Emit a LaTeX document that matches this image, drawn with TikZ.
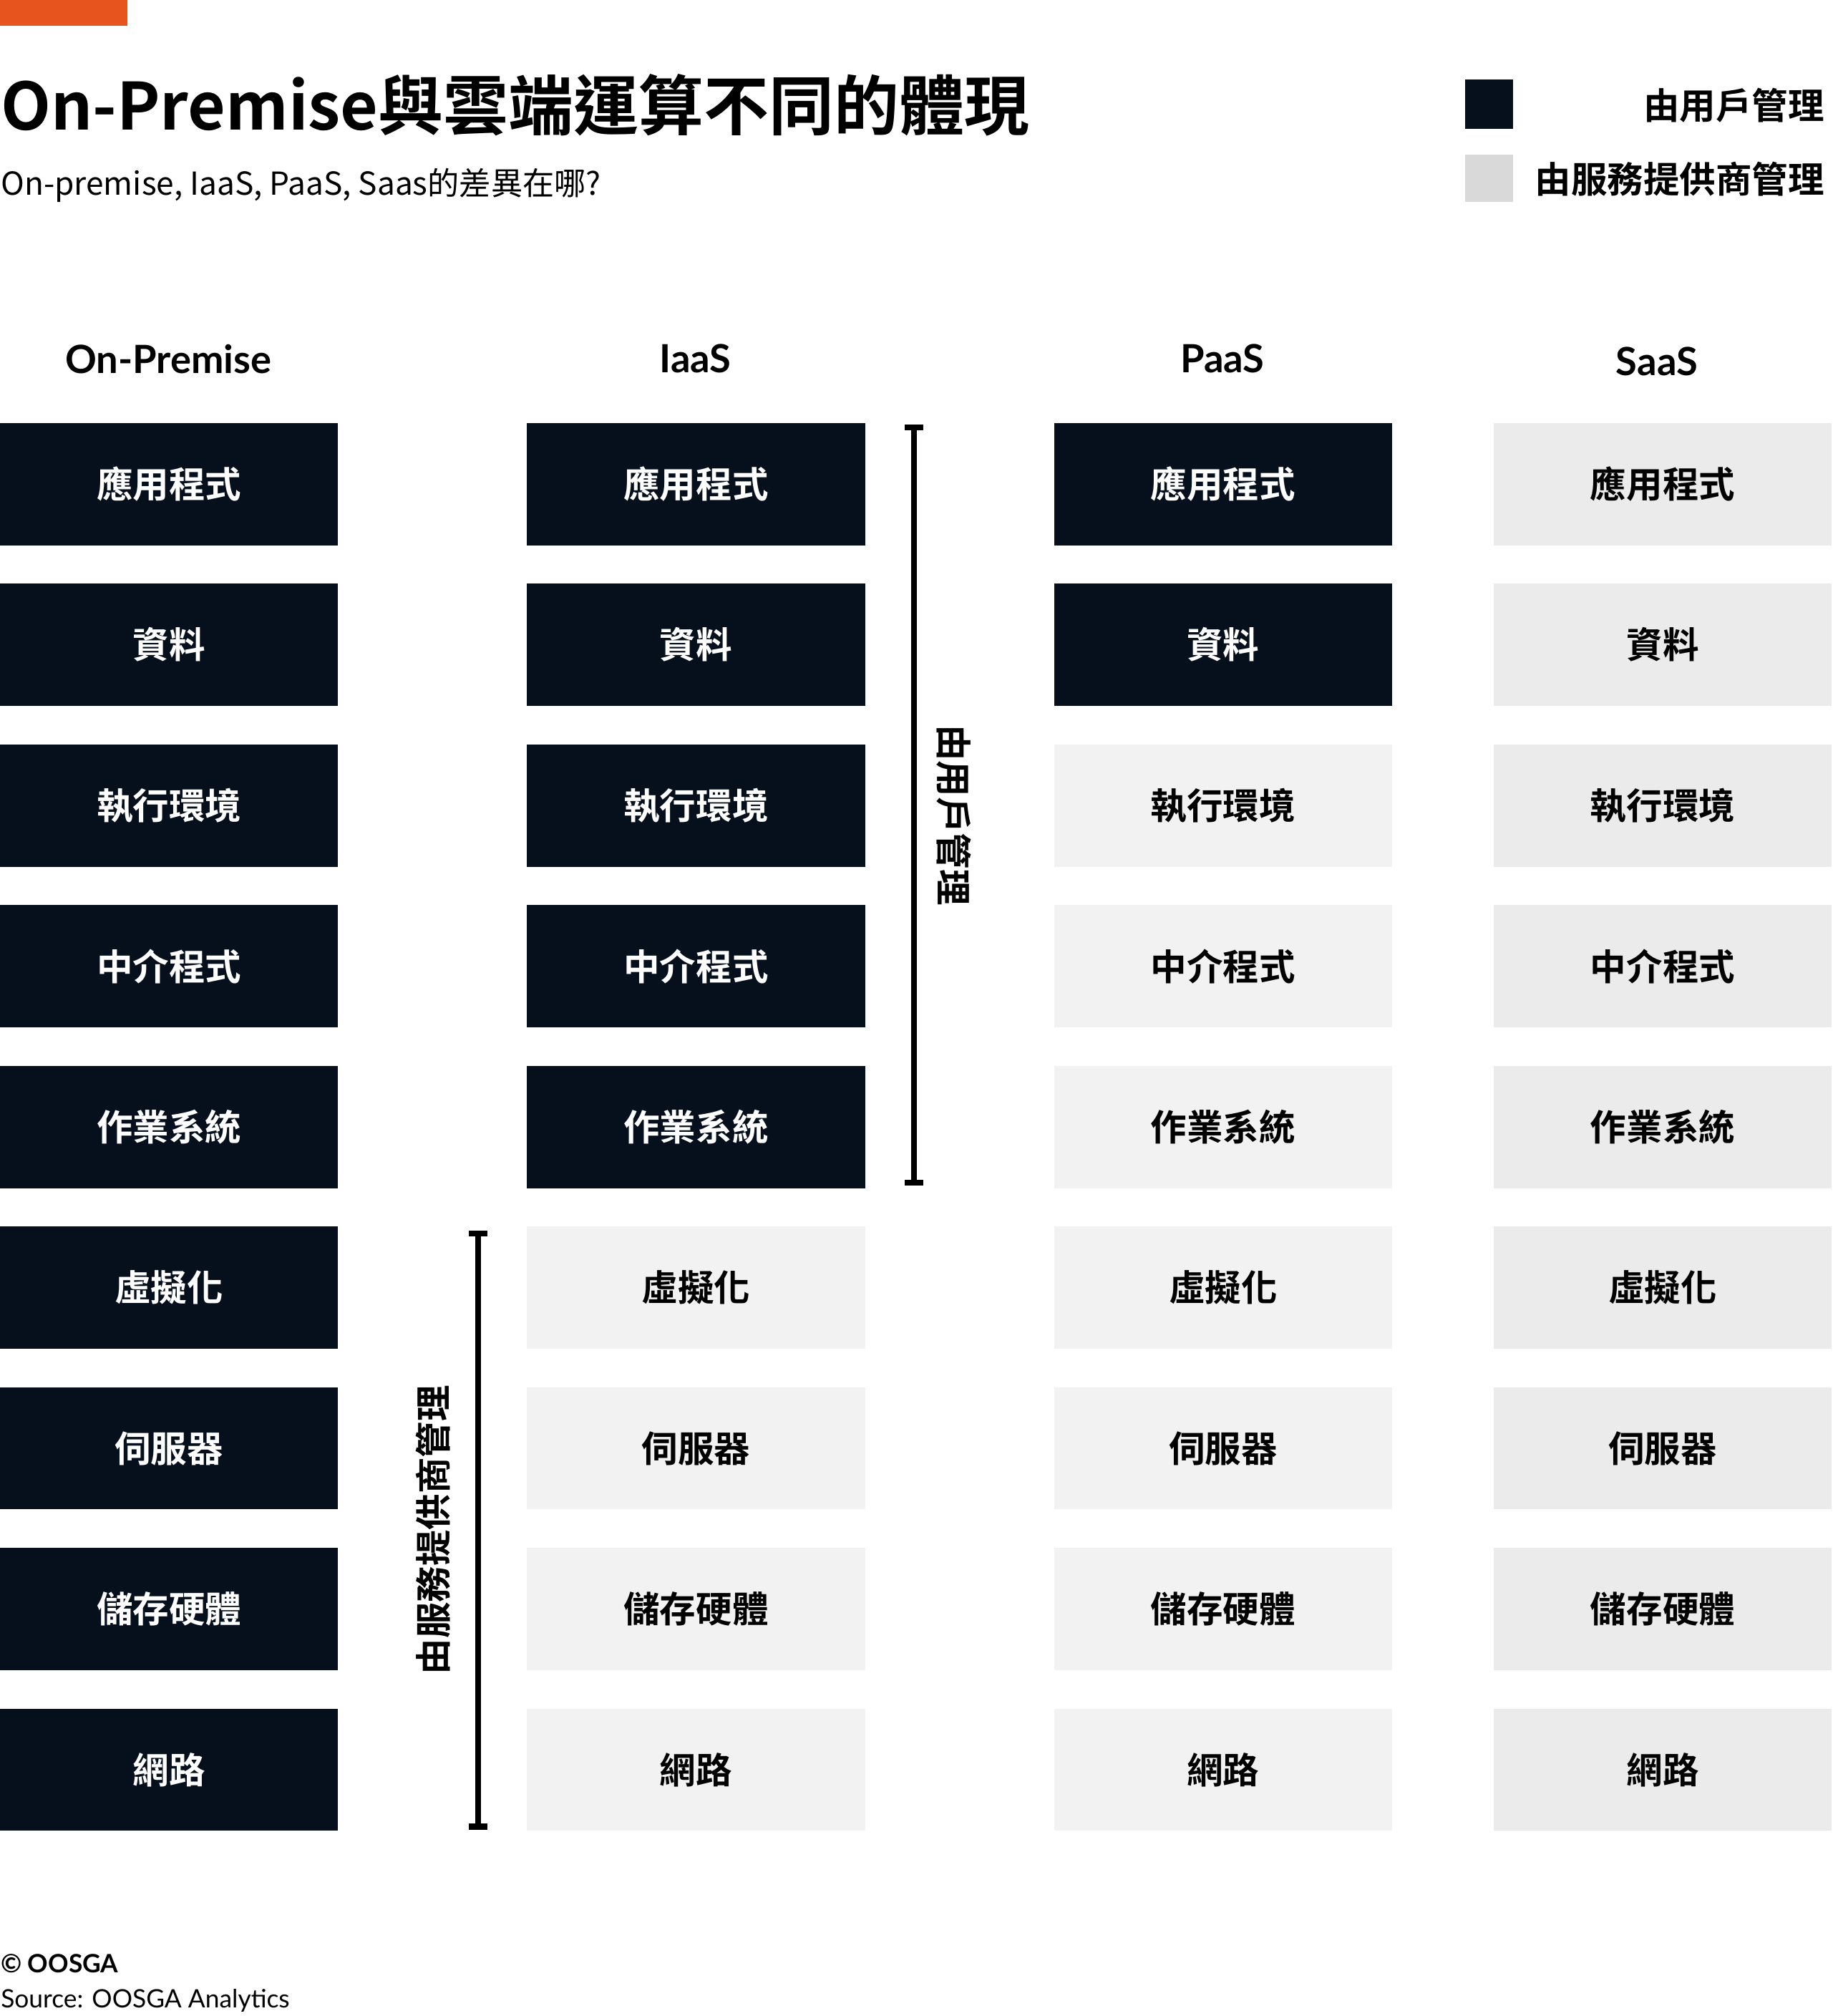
\documentclass[tikz,border=0pt]{standalone}
\usepackage{fontspec}
\setmainfont{Lato}
\newfontfamily\cjk{Noto Sans CJK TC}[BoldFont={Noto Sans CJK TC Bold}]
\usetikzlibrary{arrows.meta}
\definecolor{dark}{HTML}{06101C}
\definecolor{lite}{HTML}{F2F2F2}
\definecolor{saas}{HTML}{EBEBEB}
\definecolor{legendgrey}{HTML}{D9D9D9}
\definecolor{oosga}{HTML}{E8541E}
\begin{document}
\begin{tikzpicture}[x=0.01cm,y=-0.01cm]
\tikzset{cellbox/.style = {minimum width=2.63cm, minimum height=0.95cm, inner sep=0pt, font=\cjk\bfseries\fontsize{8}{10}\selectfont},
   userbox/.style = {cellbox, fill=dark, text=white},
   provbox/.style = {cellbox, fill=lite, text=black},
   saasbox/.style = {cellbox, fill=saas, text=black},
   colhead/.style = {font=\bfseries\fontsize{8.6}{11}\selectfont},
   bracket/.style = {line width=1.3pt, {Bar[width=4pt]}-{Bar[width=4pt]}}}
\useasboundingbox (0,0) rectangle (1426,1568);
\fill[oosga] (0,0) rectangle (99,20);
\node[anchor=west, inner sep=0pt, font=\cjk\bfseries\fontsize{14.4}{18}\selectfont] (title) at (0,82) {On-Premise與雲端運算不同的體現};
\node[anchor=west, inner sep=0pt, font=\cjk\fontsize{7}{8}\selectfont] (subtitle) at (0,144) {On-premise, IaaS, PaaS, Saas的差異在哪?};
% legend
\fill[dark] (1140,62) rectangle (1177,100);
\fill[legendgrey] (1140,120) rectangle (1177,157);
\node[anchor=east, inner sep=0pt, font=\cjk\bfseries\fontsize{8}{10}\selectfont] (leguser) at (1420,82) {由用戶管理};
\node[anchor=east, inner sep=0pt, font=\cjk\bfseries\fontsize{8}{10}\selectfont] (legprov) at (1420,139) {由服務提供商管理};
% column heads
\node[colhead] (hon) at (131,279) {On-Premise};
\node[colhead] (hi) at (541,279) {IaaS};
\node[colhead] (hp) at (951,279) {PaaS};
\node[colhead] (hs) at (1289,281) {SaaS};
% rows
\foreach \lab [count=\i] in {應用程式,資料,執行環境,中介程式,作業系統,虛擬化,伺服器,儲存硬體,網路}{
   \pgfmathsetmacro{\yy}{376.5+125*(\i-1)}
   \node[userbox] (on\i) at (131.5,\yy) {\lab};
   \ifnum\i<6 \node[userbox] (ia\i) at (541.5,\yy) {\lab};
   \else \node[provbox] (ia\i) at (541.5,\yy) {\lab}; \fi
   \ifnum\i<3 \node[userbox] (pa\i) at (951.5,\yy) {\lab};
   \else \node[provbox] (pa\i) at (951.5,\yy) {\lab}; \fi
   \node[saasbox] (sa\i) at (1293.5,\yy) {\lab};
}
% brackets
\coordinate (ut) at (711,330);
\coordinate (ub) at (711,922);
\draw[bracket] (ut) -- (ub);
\node[rotate=-90, font=\cjk\bfseries\fontsize{8}{10}\selectfont] (ulab) at (742,634) {由用戶管理};
\coordinate (pt) at (372,957);
\coordinate (pb) at (372,1423);
\draw[bracket] (pt) -- (pb);
\node[rotate=90, font=\cjk\bfseries\fontsize{8}{10}\selectfont] (plab) at (337,1190) {由服務提供商管理};
% footer
\node[anchor=west, inner sep=0pt, font=\bfseries\fontsize{5.6}{7}\selectfont] (copy) at (0,1527) {© OOSGA};
\node[anchor=west, inner sep=0pt, font=\fontsize{5.6}{7}\selectfont] (src) at (0,1556) {Source: OOSGA Analytics};
\end{tikzpicture}
\end{document}
